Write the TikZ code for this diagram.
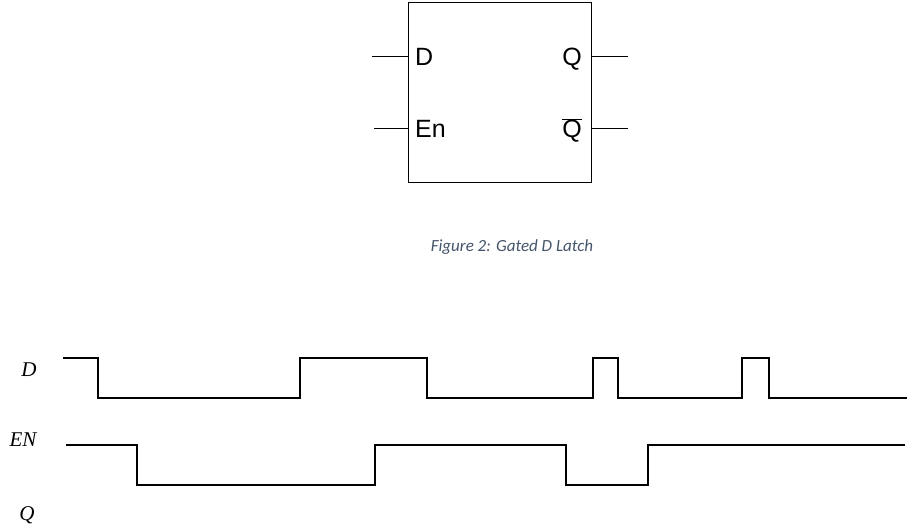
\documentclass[tikz,border=0pt]{standalone}
\usepackage{fontspec}
\setmainfont{Liberation Serif}
\newfontfamily\arialf{Liberation Sans}
\newfontfamily\calif{Carlito}
\definecolor{capc}{HTML}{44546A}
\begin{document}
\begin{tikzpicture}[x=1pt,y=-1pt,
  pin/.style={line width=1pt},
  wave/.style={line width=2pt},
  plab/.style={font=\arialf\fontsize{25}{27}\selectfont},
  wlab/.style={font=\itshape\fontsize{21}{23}\selectfont}]
\useasboundingbox (0,0) rectangle (913,529);
\node[draw,line width=1pt,minimum width=183pt,minimum height=180pt,inner sep=0] (box) at (499.5,93) {};
\coordinate (d0) at (372,57); \coordinate (d1) at (408,57);
\coordinate (e0) at (374,129); \coordinate (e1) at (408,129);
\coordinate (q0) at (591,57); \coordinate (q1) at (628,57);
\coordinate (n0) at (591,129); \coordinate (n1) at (628,129);
\draw[pin] (d0)--(d1); \draw[pin] (e0)--(e1); \draw[pin] (q0)--(q1); \draw[pin] (n0)--(n1);
\node[plab,anchor=base west,inner sep=0] (dl) at (415,66) {D};
\node[plab,anchor=base west,inner sep=0] (el) at (415,138) {En};
\node[plab,anchor=base east,inner sep=0] (ql) at (582,66) {Q};
\node[plab,anchor=base east,inner sep=0] (nl) at (582,138) {$\overline{\mbox{Q}}$};
\node[font=\calif\itshape\fontsize{17}{19}\selectfont,text=capc] (cap) at (512,247) {Figure 2: Gated D Latch};
\node[wlab] (Dl) at (29,370) {D};
\node[wlab] (ENl) at (23,440) {EN};
\node[wlab] (Ql) at (27,515) {Q};
\draw[wave] (63,358)-|(98,398)-|(300,358)-|(427,398)-|(593,358)-|(618,398)-|(742,358)-|(769,398)--(907,398);
\draw[wave] (66,445)-|(137,485)-|(375,445)-|(566,485)-|(648,445)--(905,445);
\end{tikzpicture}
\end{document}
